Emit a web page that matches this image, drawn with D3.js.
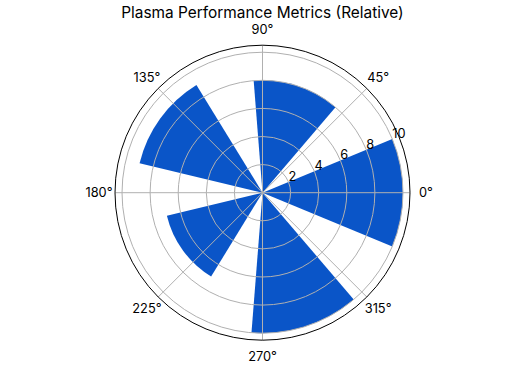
<!DOCTYPE html>
<html><head><meta charset="utf-8">
<script src="https://cdn.jsdelivr.net/npm/d3@7"></script>
<style>body{margin:0;background:#fff}svg{display:block;font-family:Inter,"DejaVu Sans",sans-serif}</style>
</head><body><svg id="c" width="512" height="384"></svg>
<script>
const categoryAngles = [0, 72, 144, 216, 288];
const values = [10, 8, 9, 7, 10];
const barWidthDeg = 45;
const radialTicks = [2, 4, 6, 8, 10];
const angleTicks = [0, 45, 90, 135, 180, 225, 270, 315];
const title = "Plasma Performance Metrics (Relative)";

const svg = d3.select("#c");
const cx = 262.5, cy = 192.7, R = 147.5;
const r = d3.scaleLinear().domain([0, 10.5]).range([0, R]);
const rad = d => d * Math.PI / 180;
const g = svg.append("g").attr("transform", `translate(${cx},${cy})`);

// bars
const arc = d3.arc();
g.selectAll("path.bar").data(values).enter().append("path")
  .attr("class", "bar")
  .attr("fill", "#0a55c8")
  .attr("d", (v, i) => {
    const t1 = rad(categoryAngles[i] - barWidthDeg / 2), t2 = rad(categoryAngles[i] + barWidthDeg / 2);
    return arc({innerRadius: 0, outerRadius: r(v), startAngle: Math.PI / 2 - t2, endAngle: Math.PI / 2 - t1});
  });

// grid
g.selectAll("circle.grid").data(radialTicks).enter().append("circle")
  .attr("r", d => r(d)).attr("fill", "none").attr("stroke", "#b0b0b0").attr("stroke-width", 1);
g.selectAll("line.grid").data(angleTicks).enter().append("line")
  .attr("x1", 0).attr("y1", 0)
  .attr("x2", d => R * Math.cos(rad(d))).attr("y2", d => -R * Math.sin(rad(d)))
  .attr("stroke", "#b0b0b0").attr("stroke-width", 1);

// outer spine
g.append("circle").attr("r", R).attr("fill", "none").attr("stroke", "#000").attr("stroke-width", 1);

// angle labels
g.selectAll("text.ang").data(angleTicks).enter().append("text")
  .attr("x", d => 163.5 * Math.cos(rad(d))).attr("y", d => -163.5 * Math.sin(rad(d)))
  .attr("text-anchor", "middle").attr("dominant-baseline", "central")
  .attr("font-size", 12.8).attr("fill", "#000")
  .text(d => d + "°");

// radial labels
const ra = rad(22.5);
g.selectAll("text.rad").data(radialTicks).enter().append("text")
  .attr("x", d => r(d) * Math.cos(ra)).attr("y", d => -r(d) * Math.sin(ra) - 1)
  .attr("text-anchor", "start")
  .attr("font-size", 12.8).attr("fill", "#000")
  .text(d => d);

svg.append("text").attr("x", 262.5).attr("y", 12.5)
  .attr("text-anchor", "middle").attr("dominant-baseline", "central")
  .attr("font-size", 15.4).attr("fill", "#000").text(title);
</script></body></html>
